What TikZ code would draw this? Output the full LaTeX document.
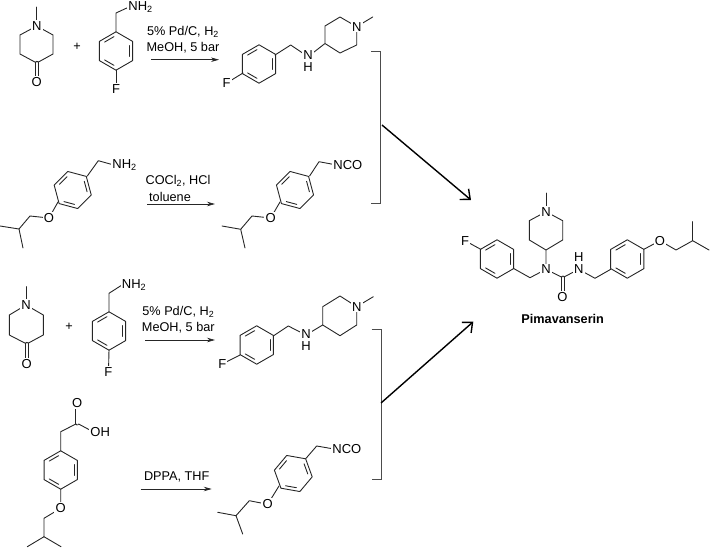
\documentclass[tikz,border=0pt]{standalone}
\usepackage{fontspec}
\setmainfont{Liberation Sans}
\usetikzlibrary{arrows.meta}
\tikzset{
  bond/.style={line width=0.9pt,black!85,line cap=round,line join=round},
  dbl/.style={bond,double,double distance=2.4pt},
  atom/.style={fill=white,inner sep=1.2pt,font=\fontsize{13}{14}\selectfont},
  hatom/.style={inner sep=0pt,font=\fontsize{13}{14}\selectfont},
  reagent/.style={font=\fontsize{12.7}{14}\selectfont,inner sep=0pt},
  rxn/.style={line width=0.7pt,black!85,-{Stealth[length=8pt,width=4.5pt]}},
  bigarrow/.style={line width=1.4pt,black,-{Straight Barb[length=8pt,width=14pt]}},
  brack/.style={line width=0.8pt,black!70}
}
\newcommand{\phring}[3]{
  \draw[bond,shift={(#1,#2)},rotate=#3] (30:19.2pt) -- (90:19.2pt) -- (150:19.2pt) -- (210:19.2pt) -- (270:19.2pt) -- (330:19.2pt) -- cycle;
  \foreach \a in {0,120,240}
    \draw[bond,shift={(#1,#2)},rotate=#3] ({\a-22}:14.5pt) -- ({\a+22}:14.5pt);
}
\begin{document}
\begin{tikzpicture}[x=1pt,y=-1pt]
\useasboundingbox (0,0) rectangle (710,548);
% first row
\draw[bond] (36.7,26) -- (53,35) -- (53,54) -- (36.7,63) -- (20,54) -- (20,35) -- cycle;
\draw[bond] (36.7,7) -- (36.7,26);
\draw[dbl] (36.7,63) -- (36.7,82);
\node[atom] (na) at (36.7,26) {N};
\node[atom] (oa) at (36.7,82) {O};
\node[reagent] (plusa) at (77,47) {+};
\phring{116}{51}{0}
\draw[bond] (116,32) -- (116,13) -- (129,7);
\draw[bond] (116,70) -- (116,89);
\node[atom,anchor=west] (nha) at (127,7) {NH\textsubscript{2}};
\node[atom] (fa) at (116,89) {F};
\node[reagent] (ca) at (183,32) {5\% Pd/C, H\textsubscript{2}};
\node[reagent] (cb) at (183,47.5) {MeOH, 5 bar};
\coordinate (ra) at (151,59.7);
\coordinate (rb) at (219,59.7);
\draw[rxn] (ra) -- (rb);
\phring{259}{64}{0}
\draw[bond] (275,55) -- (290.7,45) -- (308,56.7) -- (325,43.5) -- (325,26) -- (340,17) -- (356.7,26.7) -- (356.7,45) -- (340,53) -- (325,43.5);
\draw[bond] (356.7,26.7) -- (372.7,17);
\draw[bond] (243,73) -- (226.7,83);
\node[atom] (nb) at (356.7,26.7) {N};
\node[atom] (nhb) at (308,55.5) {N};
\node[hatom] (hb) at (308,67.3) {H};
\node[atom] (fb) at (226.7,83) {F};
% second row
\phring{72.7}{190}{15}
\draw[bond] (87.3,176) -- (98.3,160.7) -- (112,164.5);
\draw[bond] (58,202) -- (49,218) -- (30,216) -- (19,229) -- (0,226);
\draw[bond] (19,229) -- (23,248);
\node[atom,anchor=west] (nhc) at (111,165) {NH\textsubscript{2}};
\node[atom] (oc) at (49,218) {O};
\node[reagent] (cc) at (178,180.7) {COCl\textsubscript{2}, HCl};
\node[reagent] (cd) at (170,197) {toluene};
\coordinate (rc) at (147,204);
\coordinate (rd) at (215,204);
\draw[rxn] (rc) -- (rd);
\phring{295}{190}{15}
\draw[bond] (309.6,176) -- (319,161.7) -- (334,164.5);
\draw[bond] (280,202) -- (270.7,218) -- (252,216) -- (240.7,229.3) -- (222,226);
\draw[bond] (240.7,229.3) -- (245,248);
\node[atom,anchor=west] (nco) at (332,165.5) {NCO};
\node[atom] (od) at (270.7,218) {O};
\coordinate (ba) at (371,51);
\coordinate (bb) at (380,51);
\coordinate (bc) at (380,203);
\coordinate (bd) at (371,203);
\draw[brack] (ba) -- (bb) -- (bc) -- (bd);
\coordinate (ta) at (382,125);
\coordinate (tb) at (471,200);
\draw[bigarrow] (ta) -- (tb);
% product
\draw[bond] (546,211.7) -- (562.7,220.7) -- (562.7,240) -- (546,250) -- (529.3,240) -- (529.3,220.7) -- cycle;
\draw[bond] (546,193) -- (546,211.7);
\draw[bond] (546,250) -- (546,269.3) -- (530,277.7) -- (513.3,268.3);
\draw[bond] (546,269.3) -- (562.7,277.7) -- (578.7,269.3) -- (595,278.3) -- (610.7,269.3);
\draw[dbl] (562.7,277.7) -- (562.7,296.7);
\phring{497}{259}{0}
\phring{627.3}{259}{0}
\draw[bond] (480.7,249.3) -- (465,240.7);
\draw[bond] (643.9,249.3) -- (660,240.7) -- (676,250) -- (692.7,240.7) -- (709,250);
\draw[bond] (692.7,240.7) -- (692.7,221.7);
\node[atom] (ne) at (546,211.7) {N};
\node[atom] (nf) at (546,269.3) {N};
\node[atom] (nhe) at (578.7,269.3) {N};
\node[hatom] (he) at (578.7,257.5) {H};
\node[atom] (oe) at (562.5,296.7) {O};
\node[atom] (fe) at (465,240.7) {F};
\node[atom] (of) at (660,240.7) {O};
\node[reagent,font=\fontsize{12.7}{14}\selectfont\bfseries] (name) at (562.7,318.7) {Pimavanserin};
% third row
\draw[bond] (26,305) -- (43.3,315) -- (43.3,335) -- (26.7,344) -- (9.3,335) -- (9.3,315) -- cycle;
\draw[bond] (26,286.7) -- (26,305);
\draw[dbl] (26.7,344) -- (26.7,364);
\node[atom] (ng) at (26,305) {N};
\node[atom] (og) at (26.7,364) {O};
\node[reagent] (plusb) at (69,327.3) {+};
\phring{109}{331}{0}
\draw[bond] (109,312) -- (109,293.3) -- (122,285);
\draw[bond] (109,350) -- (108.5,371.7);
\node[atom,anchor=west] (nhg) at (120.5,285) {NH\textsubscript{2}};
\node[atom] (fg) at (108.3,371.7) {F};
\node[reagent] (ce) at (178.3,311.7) {5\% Pd/C, H\textsubscript{2}};
\node[reagent] (cf) at (178.3,327.7) {MeOH, 5 bar};
\coordinate (re) at (145,340);
\coordinate (rf) at (215,340);
\draw[rxn] (re) -- (rf);
\phring{256.7}{345}{0}
\draw[bond] (273.3,336) -- (288.3,326) -- (306,335) -- (322.7,325) -- (322.7,306.7) -- (340,296) -- (356.7,306.7) -- (356.7,325) -- (340,335.7) -- (322.7,325);
\draw[bond] (356.7,306.7) -- (373.3,296.7);
\draw[bond] (240,355) -- (222.3,364);
\node[atom] (nh) at (356.7,306.7) {N};
\node[atom] (nhh) at (306,334.5) {N};
\node[hatom] (hh) at (306,346.3) {H};
\node[atom] (fh) at (222.3,364) {F};
% fourth row
\phring{60.7}{470}{0}
\draw[bond] (60.7,451) -- (60.7,431.7) -- (77.3,423.3) -- (93,431.7);
\draw[dbl] (77.3,423.3) -- (77.3,402.7);
\draw[bond] (60.7,489) -- (60.7,508.3) -- (44,518.3) -- (44,536.7) -- (27.3,546.7);
\draw[bond] (44,536.7) -- (61,546.7);
\node[atom] (oi) at (77.3,402.7) {O};
\node[atom,anchor=west] (oh) at (89,431.7) {OH};
\node[atom] (oj) at (60.7,508.3) {O};
\node[reagent] (cg) at (176.7,476.7) {DPPA, THF};
\coordinate (rg) at (140.7,489);
\coordinate (rh) at (211.7,489);
\draw[rxn] (rg) -- (rh);
\phring{293.3}{473.5}{20}
\draw[bond] (305.6,458.8) -- (316.7,446) -- (334,449);
\draw[bond] (279,486) -- (267.7,504.3) -- (249.3,500.7) -- (236,515.7) -- (217.7,512.3);
\draw[bond] (236,515.7) -- (242.7,534);
\node[atom,anchor=west] (ncob) at (331,449) {NCO};
\node[atom] (ok) at (267.7,504.3) {O};
\coordinate (be) at (371.7,329.3);
\coordinate (bf) at (381,329.3);
\coordinate (bg) at (381,479);
\coordinate (bh) at (371.7,479);
\draw[brack] (be) -- (bf) -- (bg) -- (bh);
\coordinate (tc) at (381,403);
\coordinate (td) at (473.3,321.7);
\draw[bigarrow] (tc) -- (td);
\end{tikzpicture}
\end{document}
